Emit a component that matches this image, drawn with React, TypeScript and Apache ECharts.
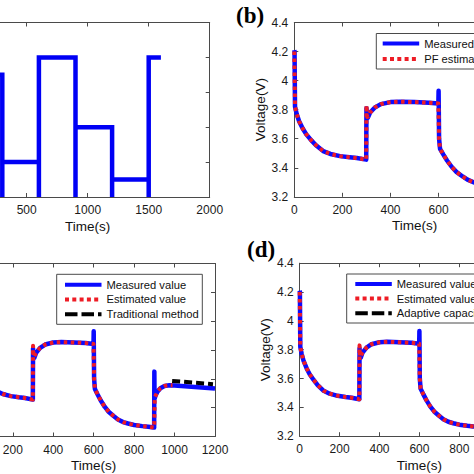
import React, { useEffect, useRef } from "react";
import * as echarts from "echarts";

// (a) applied current profile, drawn as a step trace
const currentTime = [0, 300, 300, 300, 600, 600, 600, 900, 900, 900, 1200, 1200, 1200, 1500, 1500, 1500, 1600];
const currentLevel = [3.5, 3.5, 0, 1, 1, 0, 4, 4, 0, 2, 2, 0, 0.5, 0.5, 0, 4, 4];

// terminal voltage, measured on the cell
const measuredTime = [
  0, 1, 3, 10, 20, 35, 50, 70, 90, 120, 150, 190, 230, 260, 299, 300, 302, 306, 315, 335, 360, 400, 440, 500,
  560, 599, 600, 602, 606, 620, 635, 655, 675, 700, 720, 745, 770, 800, 840, 870, 899, 900, 901, 905, 915, 930,
  950, 975, 1000, 1050, 1100, 1150, 1200,
];
const measuredVolt = [
  4.21, 4.2, 3.82, 3.77, 3.72, 3.67, 3.63, 3.59, 3.555, 3.515, 3.495, 3.48, 3.472, 3.467, 3.456, 3.81, 3.74, 3.745,
  3.78, 3.815, 3.838, 3.852, 3.855, 3.852, 3.848, 3.842, 3.93, 3.6, 3.53, 3.49, 3.45, 3.405, 3.37, 3.34, 3.318,
  3.3, 3.29, 3.28, 3.272, 3.268, 3.262, 3.65, 3.46, 3.48, 3.51, 3.535, 3.55, 3.556, 3.553, 3.548, 3.543, 3.538,
  3.533,
];

// model estimate of the terminal voltage
const estimatedTime = [
  0, 3, 10, 20, 35, 50, 70, 90, 120, 150, 190, 230, 260, 299, 300, 303, 306, 315, 335, 360, 400, 440, 500, 560,
  599, 602, 606, 620, 635, 655, 675, 700, 720, 745, 770, 800, 840, 870, 899, 902, 915, 930, 950, 975, 990,
];
const estimatedVolt = [
  4.2, 3.82, 3.77, 3.72, 3.67, 3.63, 3.59, 3.555, 3.515, 3.495, 3.48, 3.472, 3.467, 3.456, 3.83, 3.75, 3.75,
  3.78, 3.815, 3.838, 3.852, 3.855, 3.852, 3.848, 3.842, 3.6, 3.53, 3.49, 3.45, 3.405, 3.37, 3.34, 3.318, 3.3,
  3.29, 3.28, 3.272, 3.268, 3.262, 3.47, 3.51, 3.535, 3.55, 3.556, 3.556,
];

// (c) traditional method, last pulse
const traditionalTime = [988, 1040, 1100, 1150, 1190];
const traditionalVolt = [3.585, 3.58, 3.573, 3.568, 3.563];

// (d) adaptive capacity method, last pulse
const adaptiveTime = [1000, 1100, 1200];
const adaptiveVolt = [3.556, 3.545, 3.535];

const voltTicks = { min: 3.2, max: 4.4, step: 0.2 };

// the canvas runs a little past the visible page on both sides
const SHIFT = 60;

const SANS = "'Liberation Sans', Arial, Helvetica, sans-serif";
const SERIF = "'Liberation Serif', 'Times New Roman', serif";
const FRAME = "#4a4a4a";
const BLUE = "#0a0aff";
const RED = "#ee1c25";
const BLACK = "#000000";

const pairs = (xs: number[], ys: number[]) => xs.map((x, i) => [x, ys[i]]);
const plain = (v: number) => String(Math.round(v * 1000) / 1000);

type AxisOpts = {
  grid: number;
  xMax: number;
  xStep: number;
  yMin: number;
  yMax: number;
  yStep: number;
  showMinX: boolean;
  showY: boolean;
  yName?: string;
};

function boxAxes(o: AxisOpts) {
  const tick = { inside: true, length: 4, lineStyle: { color: FRAME, width: 1 } };
  const line = { show: true, onZero: false, lineStyle: { color: FRAME, width: 1 } };
  const label = { fontSize: 12, color: "#1a1a1a", fontFamily: SANS, formatter: plain };
  const x = [
    {
      type: "value",
      gridIndex: o.grid,
      position: "bottom",
      min: 0,
      max: o.xMax,
      interval: o.xStep,
      axisLine: line,
      axisTick: tick,
      axisLabel: { ...label, margin: 7, showMinLabel: o.showMinX },
      splitLine: { show: false },
      name: "Time(s)",
      nameLocation: "middle",
      nameGap: 22,
      nameTextStyle: { fontSize: 13.5, color: "#111", fontFamily: SANS },
    },
    {
      type: "value",
      gridIndex: o.grid,
      position: "top",
      min: 0,
      max: o.xMax,
      interval: o.xStep,
      axisLine: line,
      axisTick: tick,
      axisLabel: { show: false },
      splitLine: { show: false },
    },
  ];
  const y = [
    {
      type: "value",
      gridIndex: o.grid,
      position: "left",
      min: o.yMin,
      max: o.yMax,
      interval: o.yStep,
      axisLine: line,
      axisTick: tick,
      axisLabel: { ...label, show: o.showY, margin: 6 },
      splitLine: { show: false },
      name: o.yName,
      nameLocation: "middle",
      nameGap: 27,
      nameTextStyle: { fontSize: 13.5, color: "#111", fontFamily: SANS },
    },
    {
      type: "value",
      gridIndex: o.grid,
      position: "right",
      min: o.yMin,
      max: o.yMax,
      interval: o.yStep,
      axisLine: line,
      axisTick: tick,
      axisLabel: { show: false },
      splitLine: { show: false },
    },
  ];
  return { x, y };
}

type LegendRow = { label: string; stroke: string; dash?: number[] };

// boxed legend, drawn as graphic elements
function legendBox(left: number, top: number, width: number, height: number, sampleX: number, rows: LegendRow[], rowY: number[]) {
  const children: any[] = [
    {
      type: "rect",
      shape: { x: left + SHIFT, y: top, width, height },
      style: { fill: "#fff", stroke: FRAME, lineWidth: 1 },
    },
  ];
  rows.forEach((r, i) => {
    children.push({
      type: "line",
      shape: { x1: sampleX + SHIFT, y1: rowY[i], x2: sampleX + SHIFT + 36.5, y2: rowY[i] },
      style: { stroke: r.stroke, lineWidth: 4, lineDash: r.dash, lineCap: "butt" },
    });
    children.push({
      type: "text",
      x: sampleX + SHIFT + 41.5,
      y: rowY[i],
      style: { text: r.label, fontSize: 11.2, fontFamily: SANS, fill: "#111", verticalAlign: "middle" },
    });
  });
  return { type: "group", silent: true, children };
}

function voltageSeries(index: number, extra?: { name: string; time: number[]; volt: number[] }) {
  const list: any[] = [
    {
      name: "Measured value",
      type: "line",
      xAxisIndex: index * 2,
      yAxisIndex: index * 2,
      data: pairs(measuredTime, measuredVolt),
      symbol: "none",
      clip: false,
      lineStyle: { color: BLUE, width: 4.5, cap: "butt", join: "round" },
    },
    {
      name: "Estimated value",
      type: "line",
      xAxisIndex: index * 2,
      yAxisIndex: index * 2,
      data: pairs(estimatedTime, estimatedVolt),
      symbol: "none",
      clip: false,
      lineStyle: { color: RED, width: 4, type: [3.5, 3.5], cap: "butt", join: "round" },
    },
  ];
  if (extra) {
    list.push({
      name: extra.name,
      type: "line",
      xAxisIndex: index * 2,
      yAxisIndex: index * 2,
      data: pairs(extra.time, extra.volt),
      symbol: "none",
      clip: false,
      lineStyle: { color: BLACK, width: 4, type: [8, 4], cap: "butt" },
    });
  }
  return list;
}

export default function App() {
  const ref = useRef<HTMLDivElement>(null);

  useEffect(() => {
    if (!ref.current) return;
    const chart = echarts.init(ref.current, undefined, { renderer: "svg" });

    const axA = boxAxes({ grid: 0, xMax: 2000, xStep: 500, yMin: 0, yMax: 5, yStep: 1, showMinX: false, showY: false });
    const axB = boxAxes({ grid: 1, xMax: 1000, xStep: 200, yMin: voltTicks.min, yMax: voltTicks.max, yStep: voltTicks.step, showMinX: true, showY: true, yName: "Voltage(V)" });
    const axC = boxAxes({ grid: 2, xMax: 1200, xStep: 200, yMin: voltTicks.min, yMax: voltTicks.max, yStep: voltTicks.step, showMinX: false, showY: false });
    const axD = boxAxes({ grid: 3, xMax: 1200, xStep: 200, yMin: voltTicks.min, yMax: voltTicks.max, yStep: voltTicks.step, showMinX: true, showY: true, yName: "Voltage(V)" });

    const option: any = {
      animation: false,
      backgroundColor: "#ffffff",
      grid: [
        { left: -34.3 + SHIFT, top: 22.5, width: 244, height: 174.5 },
        { left: 294.3 + SHIFT, top: 22.5, width: 240.5, height: 174.3 },
        { left: -27.6 + SHIFT, top: 263.5, width: 242.6, height: 173 },
        { left: 299.7 + SHIFT, top: 263.2, width: 239.4, height: 173 },
      ],
      xAxis: [...axA.x, ...axB.x, ...axC.x, ...axD.x],
      yAxis: [...axA.y, ...axB.y, ...axC.y, ...axD.y],
      series: [
        {
          name: "Current",
          type: "line",
          xAxisIndex: 0,
          yAxisIndex: 0,
          data: pairs(currentTime, currentLevel),
          symbol: "none",
          lineStyle: { color: "#0000f5", width: 4.5, cap: "butt", join: "miter" },
        },
        ...voltageSeries(1),
        ...voltageSeries(2, { name: "Traditional method", time: traditionalTime, volt: traditionalVolt }),
        ...voltageSeries(3, { name: "Adaptive capacity method", time: adaptiveTime, volt: adaptiveVolt }),
      ],
      graphic: [
        {
          type: "text",
          x: 236 + SHIFT,
          y: 15,
          style: { text: "(b)", fontSize: 23, fontWeight: "bold", fontFamily: SERIF, fill: "#000", verticalAlign: "middle" },
        },
        {
          type: "text",
          x: 247 + SHIFT,
          y: 249,
          style: { text: "(d)", fontSize: 23, fontWeight: "bold", fontFamily: SERIF, fill: "#000", verticalAlign: "middle" },
        },
        legendBox(376.3, 33.5, 140, 35.5, 382.7, [
          { label: "Measured value", stroke: BLUE },
          { label: "PF estimated value", stroke: RED, dash: [4, 3.3] },
        ], [43.5, 59]),
        legendBox(56.7, 274.3, 145.6, 50, 65, [
          { label: "Measured value", stroke: BLUE },
          { label: "Estimated value", stroke: RED, dash: [4, 3.3] },
          { label: "Traditional method", stroke: BLACK, dash: [12.5, 4] },
        ], [284.7, 299.4, 314.3]),
        legendBox(346.7, 274, 160, 49, 355.3, [
          { label: "Measured value", stroke: BLUE },
          { label: "Estimated value", stroke: RED, dash: [4, 3.3] },
          { label: "Adaptive capacity method", stroke: BLACK, dash: [12.5, 4] },
        ], [284, 298.5, 313.3]),
      ],
    };

    chart.setOption(option);
    return () => chart.dispose();
  }, []);

  return (
    <div style={{ position: "fixed", left: 0, top: 0, width: 474, height: 474, overflow: "hidden", background: "#fff" }}>
      <div ref={ref} style={{ position: "absolute", left: -SHIFT, top: 0, width: 474 + 2 * SHIFT + 40, height: 474 }} />
    </div>
  );
}
